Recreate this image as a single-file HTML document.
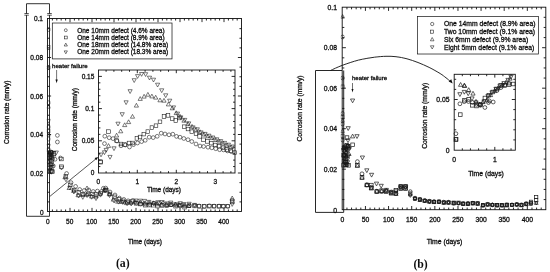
<!DOCTYPE html>
<html><head><meta charset="utf-8"><title>Corrosion rate figure</title>
<style>html,body{margin:0;padding:0;background:#fff}svg{display:block}</style></head>
<body><svg width="550" height="272" viewBox="0 0 550 272">
<defs><filter id="bl" x="-2%" y="-2%" width="104%" height="104%"><feGaussianBlur stdDeviation="0.2"/></filter></defs>
<rect width="550" height="272" fill="#fff"/>
<g filter="url(#bl)">
<g fill="none" stroke="#111" stroke-linecap="butt">
<rect x="47.5" y="18.5" width="194.0" height="193.0" stroke-width="0.9"/>
<line x1="52.4" y1="211.5" x2="52.4" y2="209.5" stroke-width="0.9"/>
<line x1="52.4" y1="18.5" x2="52.4" y2="20.5" stroke-width="0.9"/>
<line x1="56.8" y1="211.5" x2="56.8" y2="209.5" stroke-width="0.9"/>
<line x1="56.8" y1="18.5" x2="56.8" y2="20.5" stroke-width="0.9"/>
<line x1="61.2" y1="211.5" x2="61.2" y2="209.5" stroke-width="0.9"/>
<line x1="61.2" y1="18.5" x2="61.2" y2="20.5" stroke-width="0.9"/>
<line x1="65.6" y1="211.5" x2="65.6" y2="209.5" stroke-width="0.9"/>
<line x1="65.6" y1="18.5" x2="65.6" y2="20.5" stroke-width="0.9"/>
<line x1="70.0" y1="211.5" x2="70.0" y2="207.9" stroke-width="0.9"/>
<line x1="70.0" y1="18.5" x2="70.0" y2="22.1" stroke-width="0.9"/>
<line x1="74.4" y1="211.5" x2="74.4" y2="209.5" stroke-width="0.9"/>
<line x1="74.4" y1="18.5" x2="74.4" y2="20.5" stroke-width="0.9"/>
<line x1="78.8" y1="211.5" x2="78.8" y2="209.5" stroke-width="0.9"/>
<line x1="78.8" y1="18.5" x2="78.8" y2="20.5" stroke-width="0.9"/>
<line x1="83.2" y1="211.5" x2="83.2" y2="209.5" stroke-width="0.9"/>
<line x1="83.2" y1="18.5" x2="83.2" y2="20.5" stroke-width="0.9"/>
<line x1="87.6" y1="211.5" x2="87.6" y2="209.5" stroke-width="0.9"/>
<line x1="87.6" y1="18.5" x2="87.6" y2="20.5" stroke-width="0.9"/>
<line x1="92.0" y1="211.5" x2="92.0" y2="207.9" stroke-width="0.9"/>
<line x1="92.0" y1="18.5" x2="92.0" y2="22.1" stroke-width="0.9"/>
<line x1="96.4" y1="211.5" x2="96.4" y2="209.5" stroke-width="0.9"/>
<line x1="96.4" y1="18.5" x2="96.4" y2="20.5" stroke-width="0.9"/>
<line x1="100.8" y1="211.5" x2="100.8" y2="209.5" stroke-width="0.9"/>
<line x1="100.8" y1="18.5" x2="100.8" y2="20.5" stroke-width="0.9"/>
<line x1="105.2" y1="211.5" x2="105.2" y2="209.5" stroke-width="0.9"/>
<line x1="105.2" y1="18.5" x2="105.2" y2="20.5" stroke-width="0.9"/>
<line x1="109.6" y1="211.5" x2="109.6" y2="209.5" stroke-width="0.9"/>
<line x1="109.6" y1="18.5" x2="109.6" y2="20.5" stroke-width="0.9"/>
<line x1="114.0" y1="211.5" x2="114.0" y2="207.9" stroke-width="0.9"/>
<line x1="114.0" y1="18.5" x2="114.0" y2="22.1" stroke-width="0.9"/>
<line x1="118.4" y1="211.5" x2="118.4" y2="209.5" stroke-width="0.9"/>
<line x1="118.4" y1="18.5" x2="118.4" y2="20.5" stroke-width="0.9"/>
<line x1="122.8" y1="211.5" x2="122.8" y2="209.5" stroke-width="0.9"/>
<line x1="122.8" y1="18.5" x2="122.8" y2="20.5" stroke-width="0.9"/>
<line x1="127.2" y1="211.5" x2="127.2" y2="209.5" stroke-width="0.9"/>
<line x1="127.2" y1="18.5" x2="127.2" y2="20.5" stroke-width="0.9"/>
<line x1="131.6" y1="211.5" x2="131.6" y2="209.5" stroke-width="0.9"/>
<line x1="131.6" y1="18.5" x2="131.6" y2="20.5" stroke-width="0.9"/>
<line x1="136.0" y1="211.5" x2="136.0" y2="207.9" stroke-width="0.9"/>
<line x1="136.0" y1="18.5" x2="136.0" y2="22.1" stroke-width="0.9"/>
<line x1="140.4" y1="211.5" x2="140.4" y2="209.5" stroke-width="0.9"/>
<line x1="140.4" y1="18.5" x2="140.4" y2="20.5" stroke-width="0.9"/>
<line x1="144.8" y1="211.5" x2="144.8" y2="209.5" stroke-width="0.9"/>
<line x1="144.8" y1="18.5" x2="144.8" y2="20.5" stroke-width="0.9"/>
<line x1="149.2" y1="211.5" x2="149.2" y2="209.5" stroke-width="0.9"/>
<line x1="149.2" y1="18.5" x2="149.2" y2="20.5" stroke-width="0.9"/>
<line x1="153.6" y1="211.5" x2="153.6" y2="209.5" stroke-width="0.9"/>
<line x1="153.6" y1="18.5" x2="153.6" y2="20.5" stroke-width="0.9"/>
<line x1="158.0" y1="211.5" x2="158.0" y2="207.9" stroke-width="0.9"/>
<line x1="158.0" y1="18.5" x2="158.0" y2="22.1" stroke-width="0.9"/>
<line x1="162.4" y1="211.5" x2="162.4" y2="209.5" stroke-width="0.9"/>
<line x1="162.4" y1="18.5" x2="162.4" y2="20.5" stroke-width="0.9"/>
<line x1="166.8" y1="211.5" x2="166.8" y2="209.5" stroke-width="0.9"/>
<line x1="166.8" y1="18.5" x2="166.8" y2="20.5" stroke-width="0.9"/>
<line x1="171.2" y1="211.5" x2="171.2" y2="209.5" stroke-width="0.9"/>
<line x1="171.2" y1="18.5" x2="171.2" y2="20.5" stroke-width="0.9"/>
<line x1="175.6" y1="211.5" x2="175.6" y2="209.5" stroke-width="0.9"/>
<line x1="175.6" y1="18.5" x2="175.6" y2="20.5" stroke-width="0.9"/>
<line x1="180.0" y1="211.5" x2="180.0" y2="207.9" stroke-width="0.9"/>
<line x1="180.0" y1="18.5" x2="180.0" y2="22.1" stroke-width="0.9"/>
<line x1="184.4" y1="211.5" x2="184.4" y2="209.5" stroke-width="0.9"/>
<line x1="184.4" y1="18.5" x2="184.4" y2="20.5" stroke-width="0.9"/>
<line x1="188.8" y1="211.5" x2="188.8" y2="209.5" stroke-width="0.9"/>
<line x1="188.8" y1="18.5" x2="188.8" y2="20.5" stroke-width="0.9"/>
<line x1="193.2" y1="211.5" x2="193.2" y2="209.5" stroke-width="0.9"/>
<line x1="193.2" y1="18.5" x2="193.2" y2="20.5" stroke-width="0.9"/>
<line x1="197.6" y1="211.5" x2="197.6" y2="209.5" stroke-width="0.9"/>
<line x1="197.6" y1="18.5" x2="197.6" y2="20.5" stroke-width="0.9"/>
<line x1="202.0" y1="211.5" x2="202.0" y2="207.9" stroke-width="0.9"/>
<line x1="202.0" y1="18.5" x2="202.0" y2="22.1" stroke-width="0.9"/>
<line x1="206.4" y1="211.5" x2="206.4" y2="209.5" stroke-width="0.9"/>
<line x1="206.4" y1="18.5" x2="206.4" y2="20.5" stroke-width="0.9"/>
<line x1="210.8" y1="211.5" x2="210.8" y2="209.5" stroke-width="0.9"/>
<line x1="210.8" y1="18.5" x2="210.8" y2="20.5" stroke-width="0.9"/>
<line x1="215.2" y1="211.5" x2="215.2" y2="209.5" stroke-width="0.9"/>
<line x1="215.2" y1="18.5" x2="215.2" y2="20.5" stroke-width="0.9"/>
<line x1="219.6" y1="211.5" x2="219.6" y2="209.5" stroke-width="0.9"/>
<line x1="219.6" y1="18.5" x2="219.6" y2="20.5" stroke-width="0.9"/>
<line x1="224.0" y1="211.5" x2="224.0" y2="207.9" stroke-width="0.9"/>
<line x1="224.0" y1="18.5" x2="224.0" y2="22.1" stroke-width="0.9"/>
<line x1="228.4" y1="211.5" x2="228.4" y2="209.5" stroke-width="0.9"/>
<line x1="228.4" y1="18.5" x2="228.4" y2="20.5" stroke-width="0.9"/>
<line x1="232.8" y1="211.5" x2="232.8" y2="209.5" stroke-width="0.9"/>
<line x1="232.8" y1="18.5" x2="232.8" y2="20.5" stroke-width="0.9"/>
<line x1="237.2" y1="211.5" x2="237.2" y2="209.5" stroke-width="0.9"/>
<line x1="237.2" y1="18.5" x2="237.2" y2="20.5" stroke-width="0.9"/>
<line x1="47.5" y1="201.875" x2="49.5" y2="201.875" stroke-width="0.9"/>
<line x1="241.5" y1="201.875" x2="239.5" y2="201.875" stroke-width="0.9"/>
<line x1="47.5" y1="192.25" x2="49.5" y2="192.25" stroke-width="0.9"/>
<line x1="241.5" y1="192.25" x2="239.5" y2="192.25" stroke-width="0.9"/>
<line x1="47.5" y1="182.625" x2="49.5" y2="182.625" stroke-width="0.9"/>
<line x1="241.5" y1="182.625" x2="239.5" y2="182.625" stroke-width="0.9"/>
<line x1="47.5" y1="173.0" x2="51.1" y2="173.0" stroke-width="0.9"/>
<line x1="241.5" y1="173.0" x2="237.9" y2="173.0" stroke-width="0.9"/>
<line x1="47.5" y1="163.375" x2="49.5" y2="163.375" stroke-width="0.9"/>
<line x1="241.5" y1="163.375" x2="239.5" y2="163.375" stroke-width="0.9"/>
<line x1="47.5" y1="153.75" x2="49.5" y2="153.75" stroke-width="0.9"/>
<line x1="241.5" y1="153.75" x2="239.5" y2="153.75" stroke-width="0.9"/>
<line x1="47.5" y1="144.125" x2="49.5" y2="144.125" stroke-width="0.9"/>
<line x1="241.5" y1="144.125" x2="239.5" y2="144.125" stroke-width="0.9"/>
<line x1="47.5" y1="134.5" x2="51.1" y2="134.5" stroke-width="0.9"/>
<line x1="241.5" y1="134.5" x2="237.9" y2="134.5" stroke-width="0.9"/>
<line x1="47.5" y1="124.875" x2="49.5" y2="124.875" stroke-width="0.9"/>
<line x1="241.5" y1="124.875" x2="239.5" y2="124.875" stroke-width="0.9"/>
<line x1="47.5" y1="115.25" x2="49.5" y2="115.25" stroke-width="0.9"/>
<line x1="241.5" y1="115.25" x2="239.5" y2="115.25" stroke-width="0.9"/>
<line x1="47.5" y1="105.625" x2="49.5" y2="105.625" stroke-width="0.9"/>
<line x1="241.5" y1="105.625" x2="239.5" y2="105.625" stroke-width="0.9"/>
<line x1="47.5" y1="96.0" x2="51.1" y2="96.0" stroke-width="0.9"/>
<line x1="241.5" y1="96.0" x2="237.9" y2="96.0" stroke-width="0.9"/>
<line x1="47.5" y1="86.375" x2="49.5" y2="86.375" stroke-width="0.9"/>
<line x1="241.5" y1="86.375" x2="239.5" y2="86.375" stroke-width="0.9"/>
<line x1="47.5" y1="76.75" x2="49.5" y2="76.75" stroke-width="0.9"/>
<line x1="241.5" y1="76.75" x2="239.5" y2="76.75" stroke-width="0.9"/>
<line x1="47.5" y1="67.125" x2="49.5" y2="67.125" stroke-width="0.9"/>
<line x1="241.5" y1="67.125" x2="239.5" y2="67.125" stroke-width="0.9"/>
<line x1="47.5" y1="57.5" x2="51.1" y2="57.5" stroke-width="0.9"/>
<line x1="241.5" y1="57.5" x2="237.9" y2="57.5" stroke-width="0.9"/>
<line x1="47.5" y1="47.875" x2="49.5" y2="47.875" stroke-width="0.9"/>
<line x1="241.5" y1="47.875" x2="239.5" y2="47.875" stroke-width="0.9"/>
<line x1="47.5" y1="38.25" x2="49.5" y2="38.25" stroke-width="0.9"/>
<line x1="241.5" y1="38.25" x2="239.5" y2="38.25" stroke-width="0.9"/>
<line x1="47.5" y1="28.625" x2="49.5" y2="28.625" stroke-width="0.9"/>
<line x1="241.5" y1="28.625" x2="239.5" y2="28.625" stroke-width="0.9"/>
<path d="M49.5 216.3L26.5 216.3L26.5 15.1M26.5 13.6L26.5 3.7L49.5 3.7L49.5 13.6M49.5 15.1L49.5 216.3" stroke-width="0.85"/>
<line x1="24.4" y1="13.5" x2="28.8" y2="13.5" stroke-width="0.7"/>
<line x1="24.4" y1="15.2" x2="28.8" y2="15.2" stroke-width="0.7"/>
<line x1="47.2" y1="13.5" x2="51.8" y2="13.5" stroke-width="0.7"/>
<line x1="47.2" y1="15.2" x2="51.8" y2="15.2" stroke-width="0.7"/>
<rect x="52.3" y="23" width="119.7" height="35.9" fill="#fff" stroke-width="0.7"/>
<rect x="98.5" y="70.0" width="136.5" height="103.0" fill="#fff" stroke-width="0.9"/>
<line x1="106.1" y1="173.0" x2="106.1" y2="171.2" stroke-width="0.9"/>
<line x1="106.1" y1="70.0" x2="106.1" y2="71.8" stroke-width="0.9"/>
<line x1="113.9" y1="173.0" x2="113.9" y2="171.2" stroke-width="0.9"/>
<line x1="113.9" y1="70.0" x2="113.9" y2="71.8" stroke-width="0.9"/>
<line x1="121.69999999999999" y1="173.0" x2="121.69999999999999" y2="171.2" stroke-width="0.9"/>
<line x1="121.69999999999999" y1="70.0" x2="121.69999999999999" y2="71.8" stroke-width="0.9"/>
<line x1="129.5" y1="173.0" x2="129.5" y2="171.2" stroke-width="0.9"/>
<line x1="129.5" y1="70.0" x2="129.5" y2="71.8" stroke-width="0.9"/>
<line x1="137.3" y1="173.0" x2="137.3" y2="169.8" stroke-width="0.9"/>
<line x1="137.3" y1="70.0" x2="137.3" y2="73.2" stroke-width="0.9"/>
<line x1="145.1" y1="173.0" x2="145.1" y2="171.2" stroke-width="0.9"/>
<line x1="145.1" y1="70.0" x2="145.1" y2="71.8" stroke-width="0.9"/>
<line x1="152.89999999999998" y1="173.0" x2="152.89999999999998" y2="171.2" stroke-width="0.9"/>
<line x1="152.89999999999998" y1="70.0" x2="152.89999999999998" y2="71.8" stroke-width="0.9"/>
<line x1="160.7" y1="173.0" x2="160.7" y2="171.2" stroke-width="0.9"/>
<line x1="160.7" y1="70.0" x2="160.7" y2="71.8" stroke-width="0.9"/>
<line x1="168.5" y1="173.0" x2="168.5" y2="171.2" stroke-width="0.9"/>
<line x1="168.5" y1="70.0" x2="168.5" y2="71.8" stroke-width="0.9"/>
<line x1="176.3" y1="173.0" x2="176.3" y2="169.8" stroke-width="0.9"/>
<line x1="176.3" y1="70.0" x2="176.3" y2="73.2" stroke-width="0.9"/>
<line x1="184.10000000000002" y1="173.0" x2="184.10000000000002" y2="171.2" stroke-width="0.9"/>
<line x1="184.10000000000002" y1="70.0" x2="184.10000000000002" y2="71.8" stroke-width="0.9"/>
<line x1="191.89999999999998" y1="173.0" x2="191.89999999999998" y2="171.2" stroke-width="0.9"/>
<line x1="191.89999999999998" y1="70.0" x2="191.89999999999998" y2="71.8" stroke-width="0.9"/>
<line x1="199.7" y1="173.0" x2="199.7" y2="171.2" stroke-width="0.9"/>
<line x1="199.7" y1="70.0" x2="199.7" y2="71.8" stroke-width="0.9"/>
<line x1="207.5" y1="173.0" x2="207.5" y2="171.2" stroke-width="0.9"/>
<line x1="207.5" y1="70.0" x2="207.5" y2="71.8" stroke-width="0.9"/>
<line x1="215.3" y1="173.0" x2="215.3" y2="169.8" stroke-width="0.9"/>
<line x1="215.3" y1="70.0" x2="215.3" y2="73.2" stroke-width="0.9"/>
<line x1="223.10000000000002" y1="173.0" x2="223.10000000000002" y2="171.2" stroke-width="0.9"/>
<line x1="223.10000000000002" y1="70.0" x2="223.10000000000002" y2="71.8" stroke-width="0.9"/>
<line x1="230.89999999999998" y1="173.0" x2="230.89999999999998" y2="171.2" stroke-width="0.9"/>
<line x1="230.89999999999998" y1="70.0" x2="230.89999999999998" y2="71.8" stroke-width="0.9"/>
<line x1="98.5" y1="166.56" x2="100.4" y2="166.56" stroke-width="0.9"/>
<line x1="235.0" y1="166.56" x2="233.1" y2="166.56" stroke-width="0.9"/>
<line x1="98.5" y1="160.12" x2="100.4" y2="160.12" stroke-width="0.9"/>
<line x1="235.0" y1="160.12" x2="233.1" y2="160.12" stroke-width="0.9"/>
<line x1="98.5" y1="153.68" x2="100.4" y2="153.68" stroke-width="0.9"/>
<line x1="235.0" y1="153.68" x2="233.1" y2="153.68" stroke-width="0.9"/>
<line x1="98.5" y1="147.24" x2="100.4" y2="147.24" stroke-width="0.9"/>
<line x1="235.0" y1="147.24" x2="233.1" y2="147.24" stroke-width="0.9"/>
<line x1="98.5" y1="140.8" x2="101.9" y2="140.8" stroke-width="0.9"/>
<line x1="235.0" y1="140.8" x2="231.6" y2="140.8" stroke-width="0.9"/>
<line x1="98.5" y1="134.36" x2="100.4" y2="134.36" stroke-width="0.9"/>
<line x1="235.0" y1="134.36" x2="233.1" y2="134.36" stroke-width="0.9"/>
<line x1="98.5" y1="127.91999999999999" x2="100.4" y2="127.91999999999999" stroke-width="0.9"/>
<line x1="235.0" y1="127.91999999999999" x2="233.1" y2="127.91999999999999" stroke-width="0.9"/>
<line x1="98.5" y1="121.47999999999999" x2="100.4" y2="121.47999999999999" stroke-width="0.9"/>
<line x1="235.0" y1="121.47999999999999" x2="233.1" y2="121.47999999999999" stroke-width="0.9"/>
<line x1="98.5" y1="115.03999999999999" x2="100.4" y2="115.03999999999999" stroke-width="0.9"/>
<line x1="235.0" y1="115.03999999999999" x2="233.1" y2="115.03999999999999" stroke-width="0.9"/>
<line x1="98.5" y1="108.6" x2="101.9" y2="108.6" stroke-width="0.9"/>
<line x1="235.0" y1="108.6" x2="231.6" y2="108.6" stroke-width="0.9"/>
<line x1="98.5" y1="102.16" x2="100.4" y2="102.16" stroke-width="0.9"/>
<line x1="235.0" y1="102.16" x2="233.1" y2="102.16" stroke-width="0.9"/>
<line x1="98.5" y1="95.72" x2="100.4" y2="95.72" stroke-width="0.9"/>
<line x1="235.0" y1="95.72" x2="233.1" y2="95.72" stroke-width="0.9"/>
<line x1="98.5" y1="89.28" x2="100.4" y2="89.28" stroke-width="0.9"/>
<line x1="235.0" y1="89.28" x2="233.1" y2="89.28" stroke-width="0.9"/>
<line x1="98.5" y1="82.83999999999999" x2="100.4" y2="82.83999999999999" stroke-width="0.9"/>
<line x1="235.0" y1="82.83999999999999" x2="233.1" y2="82.83999999999999" stroke-width="0.9"/>
<line x1="98.5" y1="76.4" x2="101.9" y2="76.4" stroke-width="0.9"/>
<line x1="235.0" y1="76.4" x2="231.6" y2="76.4" stroke-width="0.9"/>
<line x1="49.7" y1="196.5" x2="97.0" y2="158.0" stroke-width="0.7"/>
<path d="M98.3 157L94.6 158.1L96.2 160.2Z" fill="#111" stroke="none"/>
<line x1="56.6" y1="70" x2="56.6" y2="81" stroke-width="0.6"/>
<path d="M56.6 83.2L55.5 79.4L57.7 79.4Z" fill="#111" stroke="none"/>
<rect x="342.2" y="7.2" width="203.59999999999997" height="202.5" stroke-width="0.9"/>
<line x1="346.926" y1="209.7" x2="346.926" y2="207.6" stroke-width="0.9"/>
<line x1="346.926" y1="7.2" x2="346.926" y2="9.3" stroke-width="0.9"/>
<line x1="351.552" y1="209.7" x2="351.552" y2="207.6" stroke-width="0.9"/>
<line x1="351.552" y1="7.2" x2="351.552" y2="9.3" stroke-width="0.9"/>
<line x1="356.178" y1="209.7" x2="356.178" y2="207.6" stroke-width="0.9"/>
<line x1="356.178" y1="7.2" x2="356.178" y2="9.3" stroke-width="0.9"/>
<line x1="360.80400000000003" y1="209.7" x2="360.80400000000003" y2="207.6" stroke-width="0.9"/>
<line x1="360.80400000000003" y1="7.2" x2="360.80400000000003" y2="9.3" stroke-width="0.9"/>
<line x1="365.43" y1="209.7" x2="365.43" y2="206.0" stroke-width="0.9"/>
<line x1="365.43" y1="7.2" x2="365.43" y2="10.9" stroke-width="0.9"/>
<line x1="370.05600000000004" y1="209.7" x2="370.05600000000004" y2="207.6" stroke-width="0.9"/>
<line x1="370.05600000000004" y1="7.2" x2="370.05600000000004" y2="9.3" stroke-width="0.9"/>
<line x1="374.682" y1="209.7" x2="374.682" y2="207.6" stroke-width="0.9"/>
<line x1="374.682" y1="7.2" x2="374.682" y2="9.3" stroke-width="0.9"/>
<line x1="379.308" y1="209.7" x2="379.308" y2="207.6" stroke-width="0.9"/>
<line x1="379.308" y1="7.2" x2="379.308" y2="9.3" stroke-width="0.9"/>
<line x1="383.934" y1="209.7" x2="383.934" y2="207.6" stroke-width="0.9"/>
<line x1="383.934" y1="7.2" x2="383.934" y2="9.3" stroke-width="0.9"/>
<line x1="388.56" y1="209.7" x2="388.56" y2="206.0" stroke-width="0.9"/>
<line x1="388.56" y1="7.2" x2="388.56" y2="10.9" stroke-width="0.9"/>
<line x1="393.18600000000004" y1="209.7" x2="393.18600000000004" y2="207.6" stroke-width="0.9"/>
<line x1="393.18600000000004" y1="7.2" x2="393.18600000000004" y2="9.3" stroke-width="0.9"/>
<line x1="397.812" y1="209.7" x2="397.812" y2="207.6" stroke-width="0.9"/>
<line x1="397.812" y1="7.2" x2="397.812" y2="9.3" stroke-width="0.9"/>
<line x1="402.438" y1="209.7" x2="402.438" y2="207.6" stroke-width="0.9"/>
<line x1="402.438" y1="7.2" x2="402.438" y2="9.3" stroke-width="0.9"/>
<line x1="407.064" y1="209.7" x2="407.064" y2="207.6" stroke-width="0.9"/>
<line x1="407.064" y1="7.2" x2="407.064" y2="9.3" stroke-width="0.9"/>
<line x1="411.69" y1="209.7" x2="411.69" y2="206.0" stroke-width="0.9"/>
<line x1="411.69" y1="7.2" x2="411.69" y2="10.9" stroke-width="0.9"/>
<line x1="416.31600000000003" y1="209.7" x2="416.31600000000003" y2="207.6" stroke-width="0.9"/>
<line x1="416.31600000000003" y1="7.2" x2="416.31600000000003" y2="9.3" stroke-width="0.9"/>
<line x1="420.942" y1="209.7" x2="420.942" y2="207.6" stroke-width="0.9"/>
<line x1="420.942" y1="7.2" x2="420.942" y2="9.3" stroke-width="0.9"/>
<line x1="425.568" y1="209.7" x2="425.568" y2="207.6" stroke-width="0.9"/>
<line x1="425.568" y1="7.2" x2="425.568" y2="9.3" stroke-width="0.9"/>
<line x1="430.194" y1="209.7" x2="430.194" y2="207.6" stroke-width="0.9"/>
<line x1="430.194" y1="7.2" x2="430.194" y2="9.3" stroke-width="0.9"/>
<line x1="434.82" y1="209.7" x2="434.82" y2="206.0" stroke-width="0.9"/>
<line x1="434.82" y1="7.2" x2="434.82" y2="10.9" stroke-width="0.9"/>
<line x1="439.446" y1="209.7" x2="439.446" y2="207.6" stroke-width="0.9"/>
<line x1="439.446" y1="7.2" x2="439.446" y2="9.3" stroke-width="0.9"/>
<line x1="444.072" y1="209.7" x2="444.072" y2="207.6" stroke-width="0.9"/>
<line x1="444.072" y1="7.2" x2="444.072" y2="9.3" stroke-width="0.9"/>
<line x1="448.698" y1="209.7" x2="448.698" y2="207.6" stroke-width="0.9"/>
<line x1="448.698" y1="7.2" x2="448.698" y2="9.3" stroke-width="0.9"/>
<line x1="453.324" y1="209.7" x2="453.324" y2="207.6" stroke-width="0.9"/>
<line x1="453.324" y1="7.2" x2="453.324" y2="9.3" stroke-width="0.9"/>
<line x1="457.95000000000005" y1="209.7" x2="457.95000000000005" y2="206.0" stroke-width="0.9"/>
<line x1="457.95000000000005" y1="7.2" x2="457.95000000000005" y2="10.9" stroke-width="0.9"/>
<line x1="462.576" y1="209.7" x2="462.576" y2="207.6" stroke-width="0.9"/>
<line x1="462.576" y1="7.2" x2="462.576" y2="9.3" stroke-width="0.9"/>
<line x1="467.202" y1="209.7" x2="467.202" y2="207.6" stroke-width="0.9"/>
<line x1="467.202" y1="7.2" x2="467.202" y2="9.3" stroke-width="0.9"/>
<line x1="471.828" y1="209.7" x2="471.828" y2="207.6" stroke-width="0.9"/>
<line x1="471.828" y1="7.2" x2="471.828" y2="9.3" stroke-width="0.9"/>
<line x1="476.454" y1="209.7" x2="476.454" y2="207.6" stroke-width="0.9"/>
<line x1="476.454" y1="7.2" x2="476.454" y2="9.3" stroke-width="0.9"/>
<line x1="481.08000000000004" y1="209.7" x2="481.08000000000004" y2="206.0" stroke-width="0.9"/>
<line x1="481.08000000000004" y1="7.2" x2="481.08000000000004" y2="10.9" stroke-width="0.9"/>
<line x1="485.706" y1="209.7" x2="485.706" y2="207.6" stroke-width="0.9"/>
<line x1="485.706" y1="7.2" x2="485.706" y2="9.3" stroke-width="0.9"/>
<line x1="490.332" y1="209.7" x2="490.332" y2="207.6" stroke-width="0.9"/>
<line x1="490.332" y1="7.2" x2="490.332" y2="9.3" stroke-width="0.9"/>
<line x1="494.95799999999997" y1="209.7" x2="494.95799999999997" y2="207.6" stroke-width="0.9"/>
<line x1="494.95799999999997" y1="7.2" x2="494.95799999999997" y2="9.3" stroke-width="0.9"/>
<line x1="499.584" y1="209.7" x2="499.584" y2="207.6" stroke-width="0.9"/>
<line x1="499.584" y1="7.2" x2="499.584" y2="9.3" stroke-width="0.9"/>
<line x1="504.21000000000004" y1="209.7" x2="504.21000000000004" y2="206.0" stroke-width="0.9"/>
<line x1="504.21000000000004" y1="7.2" x2="504.21000000000004" y2="10.9" stroke-width="0.9"/>
<line x1="508.836" y1="209.7" x2="508.836" y2="207.6" stroke-width="0.9"/>
<line x1="508.836" y1="7.2" x2="508.836" y2="9.3" stroke-width="0.9"/>
<line x1="513.462" y1="209.7" x2="513.462" y2="207.6" stroke-width="0.9"/>
<line x1="513.462" y1="7.2" x2="513.462" y2="9.3" stroke-width="0.9"/>
<line x1="518.088" y1="209.7" x2="518.088" y2="207.6" stroke-width="0.9"/>
<line x1="518.088" y1="7.2" x2="518.088" y2="9.3" stroke-width="0.9"/>
<line x1="522.7139999999999" y1="209.7" x2="522.7139999999999" y2="207.6" stroke-width="0.9"/>
<line x1="522.7139999999999" y1="7.2" x2="522.7139999999999" y2="9.3" stroke-width="0.9"/>
<line x1="527.34" y1="209.7" x2="527.34" y2="206.0" stroke-width="0.9"/>
<line x1="527.34" y1="7.2" x2="527.34" y2="10.9" stroke-width="0.9"/>
<line x1="531.966" y1="209.7" x2="531.966" y2="207.6" stroke-width="0.9"/>
<line x1="531.966" y1="7.2" x2="531.966" y2="9.3" stroke-width="0.9"/>
<line x1="536.592" y1="209.7" x2="536.592" y2="207.6" stroke-width="0.9"/>
<line x1="536.592" y1="7.2" x2="536.592" y2="9.3" stroke-width="0.9"/>
<line x1="541.2180000000001" y1="209.7" x2="541.2180000000001" y2="207.6" stroke-width="0.9"/>
<line x1="541.2180000000001" y1="7.2" x2="541.2180000000001" y2="9.3" stroke-width="0.9"/>
<line x1="342.2" y1="199.575" x2="344.3" y2="199.575" stroke-width="0.9"/>
<line x1="545.8" y1="199.575" x2="543.6999999999999" y2="199.575" stroke-width="0.9"/>
<line x1="342.2" y1="189.45" x2="344.3" y2="189.45" stroke-width="0.9"/>
<line x1="545.8" y1="189.45" x2="543.6999999999999" y2="189.45" stroke-width="0.9"/>
<line x1="342.2" y1="179.325" x2="344.3" y2="179.325" stroke-width="0.9"/>
<line x1="545.8" y1="179.325" x2="543.6999999999999" y2="179.325" stroke-width="0.9"/>
<line x1="342.2" y1="169.2" x2="345.9" y2="169.2" stroke-width="0.9"/>
<line x1="545.8" y1="169.2" x2="542.0999999999999" y2="169.2" stroke-width="0.9"/>
<line x1="342.2" y1="159.075" x2="344.3" y2="159.075" stroke-width="0.9"/>
<line x1="545.8" y1="159.075" x2="543.6999999999999" y2="159.075" stroke-width="0.9"/>
<line x1="342.2" y1="148.95" x2="344.3" y2="148.95" stroke-width="0.9"/>
<line x1="545.8" y1="148.95" x2="543.6999999999999" y2="148.95" stroke-width="0.9"/>
<line x1="342.2" y1="138.825" x2="344.3" y2="138.825" stroke-width="0.9"/>
<line x1="545.8" y1="138.825" x2="543.6999999999999" y2="138.825" stroke-width="0.9"/>
<line x1="342.2" y1="128.7" x2="345.9" y2="128.7" stroke-width="0.9"/>
<line x1="545.8" y1="128.7" x2="542.0999999999999" y2="128.7" stroke-width="0.9"/>
<line x1="342.2" y1="118.57499999999999" x2="344.3" y2="118.57499999999999" stroke-width="0.9"/>
<line x1="545.8" y1="118.57499999999999" x2="543.6999999999999" y2="118.57499999999999" stroke-width="0.9"/>
<line x1="342.2" y1="108.44999999999999" x2="344.3" y2="108.44999999999999" stroke-width="0.9"/>
<line x1="545.8" y1="108.44999999999999" x2="543.6999999999999" y2="108.44999999999999" stroke-width="0.9"/>
<line x1="342.2" y1="98.32499999999999" x2="344.3" y2="98.32499999999999" stroke-width="0.9"/>
<line x1="545.8" y1="98.32499999999999" x2="543.6999999999999" y2="98.32499999999999" stroke-width="0.9"/>
<line x1="342.2" y1="88.19999999999999" x2="345.9" y2="88.19999999999999" stroke-width="0.9"/>
<line x1="545.8" y1="88.19999999999999" x2="542.0999999999999" y2="88.19999999999999" stroke-width="0.9"/>
<line x1="342.2" y1="78.07499999999999" x2="344.3" y2="78.07499999999999" stroke-width="0.9"/>
<line x1="545.8" y1="78.07499999999999" x2="543.6999999999999" y2="78.07499999999999" stroke-width="0.9"/>
<line x1="342.2" y1="67.94999999999999" x2="344.3" y2="67.94999999999999" stroke-width="0.9"/>
<line x1="545.8" y1="67.94999999999999" x2="543.6999999999999" y2="67.94999999999999" stroke-width="0.9"/>
<line x1="342.2" y1="57.82499999999999" x2="344.3" y2="57.82499999999999" stroke-width="0.9"/>
<line x1="545.8" y1="57.82499999999999" x2="543.6999999999999" y2="57.82499999999999" stroke-width="0.9"/>
<line x1="342.2" y1="47.69999999999999" x2="345.9" y2="47.69999999999999" stroke-width="0.9"/>
<line x1="545.8" y1="47.69999999999999" x2="542.0999999999999" y2="47.69999999999999" stroke-width="0.9"/>
<line x1="342.2" y1="37.57499999999999" x2="344.3" y2="37.57499999999999" stroke-width="0.9"/>
<line x1="545.8" y1="37.57499999999999" x2="543.6999999999999" y2="37.57499999999999" stroke-width="0.9"/>
<line x1="342.2" y1="27.44999999999999" x2="344.3" y2="27.44999999999999" stroke-width="0.9"/>
<line x1="545.8" y1="27.44999999999999" x2="543.6999999999999" y2="27.44999999999999" stroke-width="0.9"/>
<line x1="342.2" y1="17.32499999999999" x2="344.3" y2="17.32499999999999" stroke-width="0.9"/>
<line x1="545.8" y1="17.32499999999999" x2="543.6999999999999" y2="17.32499999999999" stroke-width="0.9"/>
<path d="M342 70.5L315.5 70.5L315.5 212.4L343.7 212.4L343.7 70.5" stroke-width="0.9"/>
<rect x="417.6" y="16.5" width="120.8" height="37.5" fill="#fff" stroke-width="0.7"/>
<rect x="454.2" y="74.3" width="61.099999999999966" height="75.89999999999999" fill="#fff" stroke-width="0.9"/>
<line x1="462.32" y1="150.2" x2="462.32" y2="148.29999999999998" stroke-width="0.9"/>
<line x1="462.32" y1="74.3" x2="462.32" y2="76.2" stroke-width="0.9"/>
<line x1="470.44" y1="150.2" x2="470.44" y2="148.29999999999998" stroke-width="0.9"/>
<line x1="470.44" y1="74.3" x2="470.44" y2="76.2" stroke-width="0.9"/>
<line x1="478.56" y1="150.2" x2="478.56" y2="148.29999999999998" stroke-width="0.9"/>
<line x1="478.56" y1="74.3" x2="478.56" y2="76.2" stroke-width="0.9"/>
<line x1="486.68" y1="150.2" x2="486.68" y2="148.29999999999998" stroke-width="0.9"/>
<line x1="486.68" y1="74.3" x2="486.68" y2="76.2" stroke-width="0.9"/>
<line x1="494.8" y1="150.2" x2="494.8" y2="146.89999999999998" stroke-width="0.9"/>
<line x1="494.8" y1="74.3" x2="494.8" y2="77.6" stroke-width="0.9"/>
<line x1="502.91999999999996" y1="150.2" x2="502.91999999999996" y2="148.29999999999998" stroke-width="0.9"/>
<line x1="502.91999999999996" y1="74.3" x2="502.91999999999996" y2="76.2" stroke-width="0.9"/>
<line x1="511.03999999999996" y1="150.2" x2="511.03999999999996" y2="148.29999999999998" stroke-width="0.9"/>
<line x1="511.03999999999996" y1="74.3" x2="511.03999999999996" y2="76.2" stroke-width="0.9"/>
<line x1="454.2" y1="139.9" x2="456.2" y2="139.9" stroke-width="0.9"/>
<line x1="515.3" y1="139.9" x2="513.3" y2="139.9" stroke-width="0.9"/>
<line x1="454.2" y1="129.8" x2="456.2" y2="129.8" stroke-width="0.9"/>
<line x1="515.3" y1="129.8" x2="513.3" y2="129.8" stroke-width="0.9"/>
<line x1="454.2" y1="119.7" x2="456.2" y2="119.7" stroke-width="0.9"/>
<line x1="515.3" y1="119.7" x2="513.3" y2="119.7" stroke-width="0.9"/>
<line x1="454.2" y1="109.6" x2="456.2" y2="109.6" stroke-width="0.9"/>
<line x1="515.3" y1="109.6" x2="513.3" y2="109.6" stroke-width="0.9"/>
<line x1="454.2" y1="99.5" x2="457.7" y2="99.5" stroke-width="0.9"/>
<line x1="515.3" y1="99.5" x2="511.79999999999995" y2="99.5" stroke-width="0.9"/>
<line x1="454.2" y1="89.4" x2="456.2" y2="89.4" stroke-width="0.9"/>
<line x1="515.3" y1="89.4" x2="513.3" y2="89.4" stroke-width="0.9"/>
<line x1="454.2" y1="79.3" x2="456.2" y2="79.3" stroke-width="0.9"/>
<line x1="515.3" y1="79.3" x2="513.3" y2="79.3" stroke-width="0.9"/>
<path d="M330.5 70.5C332.5 69.6 337.7 67.0 342.4 65.3C347.1 63.6 353.1 61.5 358.5 60.1C363.9 58.8 370.1 57.8 374.7 57.2C379.3 56.6 382.4 56.4 386 56.3C389.6 56.2 392.5 56.3 396 56.7C399.5 57.1 403.3 57.8 407 58.8C410.7 59.8 414.3 61.1 418 62.5C421.7 63.9 425.4 65.6 429.1 67.4C432.8 69.2 437.3 71.8 440.1 73.5C442.9 75.2 444.3 76.5 446 77.8C447.7 79.1 449.7 80.8 450.4 81.4" stroke-width="0.9"/>
<path d="M452.6 83.6L448.6 81.6L451.3 79.2Z" fill="#111" stroke="none"/>
<line x1="352.5" y1="83" x2="352.5" y2="90.5" stroke-width="0.6"/>
<path d="M352.5 92.5L351.5 89L353.5 89Z" fill="#111" stroke="none"/>
</g>
<g fill="none" stroke="#1a1a1a" stroke-width="0.58">
<path d="M98.9 153.0L103.1 153.0L101.0 156.8Z"/>
<path d="M102.4 150.8L106.6 150.8L104.5 154.6Z"/>
<path d="M104.1 148.4L108.3 148.4L106.2 152.2Z"/>
<path d="M107.9 155.4L112.1 155.4L110.0 159.2Z"/>
<path d="M111.9 146.8L116.1 146.8L114.0 150.6Z"/>
<path d="M115.9 122.2L120.1 122.2L118.0 126.0Z"/>
<path d="M120.1 112.7L124.3 112.7L122.2 116.5Z"/>
<path d="M124.0 100.8L128.2 100.8L126.1 104.6Z"/>
<path d="M128.0 89.7L132.2 89.7L130.1 93.5Z"/>
<path d="M132.1 78.7L136.3 78.7L134.2 82.5Z"/>
<path d="M135.5 74.6L139.7 74.6L137.6 78.4Z"/>
<path d="M139.5 72.5L143.7 72.5L141.6 76.3Z"/>
<path d="M143.5 72.7L147.7 72.7L145.6 76.5Z"/>
<path d="M147.4 76.2L151.6 76.2L149.5 80.0Z"/>
<path d="M151.4 78.2L155.6 78.2L153.5 82.0Z"/>
<path d="M155.5 83.2L159.7 83.2L157.6 87.0Z"/>
<path d="M159.6 88.8L163.8 88.8L161.7 92.6Z"/>
<path d="M163.6 93.8L167.8 93.8L165.7 97.6Z"/>
<path d="M167.6 99.2L171.8 99.2L169.7 103.0Z"/>
<path d="M171.4 105.9L175.6 105.9L173.5 109.7Z"/>
<path d="M175.4 112.1L179.6 112.1L177.5 115.9Z"/>
<path d="M178.7 115.9L182.9 115.9L180.8 119.7Z"/>
<path d="M182.6 118.4L186.8 118.4L184.7 122.2Z"/>
<path d="M186.6 121.9L190.8 121.9L188.7 125.7Z"/>
<path d="M190.9 125.9L195.1 125.9L193.0 129.7Z"/>
<path d="M195.2 127.8L199.4 127.8L197.3 131.6Z"/>
<path d="M198.9 130.9L203.1 130.9L201.0 134.7Z"/>
<path d="M202.9 132.4L207.1 132.4L205.0 136.2Z"/>
<path d="M206.8 134.2L211.0 134.2L208.9 138.0Z"/>
<path d="M210.7 136.0L214.9 136.0L212.8 139.8Z"/>
<path d="M214.6 137.8L218.8 137.8L216.7 141.6Z"/>
<path d="M218.5 139.6L222.7 139.6L220.6 143.4Z"/>
<path d="M222.4 141.4L226.6 141.4L224.5 145.2Z"/>
<path d="M226.3 143.2L230.5 143.2L228.4 147.0Z"/>
<path d="M230.2 145.0L234.4 145.0L232.3 148.8Z"/>
<path d="M106.4 147.4L110.6 147.4L108.5 143.6Z"/>
<path d="M114.5 137.0L118.7 137.0L116.6 133.2Z"/>
<path d="M118.6 132.8L122.8 132.8L120.7 129.0Z"/>
<path d="M122.6 126.6L126.8 126.6L124.7 122.8Z"/>
<path d="M126.5 123.6L130.7 123.6L128.6 119.8Z"/>
<path d="M130.4 118.2L134.6 118.2L132.5 114.4Z"/>
<path d="M134.3 107.1L138.5 107.1L136.4 103.3Z"/>
<path d="M138.1 100.4L142.3 100.4L140.2 96.6Z"/>
<path d="M142.0 98.1L146.2 98.1L144.1 94.3Z"/>
<path d="M145.8 96.2L150.0 96.2L147.9 92.4Z"/>
<path d="M149.8 97.9L154.0 97.9L151.9 94.1Z"/>
<path d="M153.6 99.1L157.8 99.1L155.7 95.3Z"/>
<path d="M157.9 101.8L162.1 101.8L160.0 98.0Z"/>
<path d="M161.9 102.2L166.1 102.2L164.0 98.4Z"/>
<path d="M166.3 105.9L170.5 105.9L168.4 102.1Z"/>
<path d="M170.2 109.8L174.4 109.8L172.3 106.0Z"/>
<path d="M174.1 114.6L178.3 114.6L176.2 110.8Z"/>
<path d="M177.9 118.1L182.1 118.1L180.0 114.3Z"/>
<path d="M181.9 122.2L186.1 122.2L184.0 118.4Z"/>
<path d="M185.9 125.4L190.1 125.4L188.0 121.6Z"/>
<path d="M189.9 128.2L194.1 128.2L192.0 124.4Z"/>
<path d="M193.9 131.2L198.1 131.2L196.0 127.4Z"/>
<path d="M197.9 133.6L202.1 133.6L200.0 129.8Z"/>
<path d="M201.9 136.0L206.1 136.0L204.0 132.2Z"/>
<path d="M205.8 137.8L210.0 137.8L207.9 134.0Z"/>
<path d="M209.7 139.6L213.9 139.6L211.8 135.9Z"/>
<path d="M213.6 141.5L217.8 141.5L215.7 137.7Z"/>
<path d="M217.5 143.3L221.7 143.3L219.6 139.5Z"/>
<path d="M221.4 145.1L225.6 145.1L223.5 141.4Z"/>
<path d="M225.3 147.0L229.5 147.0L227.4 143.2Z"/>
<path d="M229.2 148.8L233.4 148.8L231.3 145.0Z"/>
<rect x="98.6" y="159.8" width="3.6" height="3.6"/>
<rect x="98.8" y="160.4" width="3.6" height="3.6"/>
<rect x="106.7" y="129.8" width="3.6" height="3.6"/>
<rect x="114.8" y="138.8" width="3.6" height="3.6"/>
<rect x="119.2" y="142.2" width="3.6" height="3.6"/>
<rect x="122.9" y="142.8" width="3.6" height="3.6"/>
<rect x="127.2" y="141.2" width="3.6" height="3.6"/>
<rect x="131.0" y="141.2" width="3.6" height="3.6"/>
<rect x="135.1" y="136.6" width="3.6" height="3.6"/>
<rect x="138.2" y="135.2" width="3.6" height="3.6"/>
<rect x="142.0" y="132.3" width="3.6" height="3.6"/>
<rect x="146.0" y="129.8" width="3.6" height="3.6"/>
<rect x="150.1" y="125.8" width="3.6" height="3.6"/>
<rect x="154.2" y="123.9" width="3.6" height="3.6"/>
<rect x="158.2" y="120.0" width="3.6" height="3.6"/>
<rect x="162.2" y="114.7" width="3.6" height="3.6"/>
<rect x="166.2" y="113.6" width="3.6" height="3.6"/>
<rect x="170.4" y="116.8" width="3.6" height="3.6"/>
<rect x="174.0" y="118.7" width="3.6" height="3.6"/>
<rect x="177.6" y="116.2" width="3.6" height="3.6"/>
<rect x="182.4" y="124.9" width="3.6" height="3.6"/>
<rect x="186.2" y="127.2" width="3.6" height="3.6"/>
<rect x="190.0" y="129.9" width="3.6" height="3.6"/>
<rect x="194.2" y="132.0" width="3.6" height="3.6"/>
<rect x="197.8" y="134.6" width="3.6" height="3.6"/>
<rect x="201.7" y="138.0" width="3.6" height="3.6"/>
<rect x="205.6" y="139.6" width="3.6" height="3.6"/>
<rect x="209.5" y="141.3" width="3.6" height="3.6"/>
<rect x="213.4" y="143.2" width="3.6" height="3.6"/>
<rect x="217.3" y="144.4" width="3.6" height="3.6"/>
<rect x="221.2" y="146.0" width="3.6" height="3.6"/>
<rect x="225.1" y="147.7" width="3.6" height="3.6"/>
<rect x="229.0" y="148.9" width="3.6" height="3.6"/>
<rect x="232.9" y="150.8" width="3.6" height="3.6"/>
<circle cx="104.8" cy="136.2" r="1.9"/>
<circle cx="109.2" cy="137.7" r="1.9"/>
<circle cx="104.5" cy="143.6" r="1.9"/>
<circle cx="113.0" cy="138.6" r="1.9"/>
<circle cx="117.0" cy="141.0" r="1.9"/>
<circle cx="121.0" cy="145.8" r="1.9"/>
<circle cx="125.4" cy="145.0" r="1.9"/>
<circle cx="129.5" cy="147.0" r="1.9"/>
<circle cx="133.5" cy="144.6" r="1.9"/>
<circle cx="137.5" cy="143.0" r="1.9"/>
<circle cx="141.6" cy="141.6" r="1.9"/>
<circle cx="145.2" cy="140.3" r="1.9"/>
<circle cx="149.2" cy="137.2" r="1.9"/>
<circle cx="153.2" cy="137.6" r="1.9"/>
<circle cx="157.2" cy="136.3" r="1.9"/>
<circle cx="161.2" cy="133.2" r="1.9"/>
<circle cx="165.0" cy="134.0" r="1.9"/>
<circle cx="169.0" cy="134.8" r="1.9"/>
<circle cx="172.8" cy="134.2" r="1.9"/>
<circle cx="176.5" cy="136.4" r="1.9"/>
<circle cx="180.0" cy="137.2" r="1.9"/>
<circle cx="183.8" cy="138.5" r="1.9"/>
<circle cx="188.0" cy="139.7" r="1.9"/>
<circle cx="191.8" cy="141.5" r="1.9"/>
<circle cx="196.0" cy="144.0" r="1.9"/>
<circle cx="200.0" cy="146.0" r="1.9"/>
<circle cx="203.6" cy="146.5" r="1.9"/>
<circle cx="208.0" cy="147.2" r="1.9"/>
<circle cx="211.8" cy="147.8" r="1.9"/>
<circle cx="215.7" cy="148.7" r="1.9"/>
<circle cx="219.6" cy="149.7" r="1.9"/>
<circle cx="223.5" cy="149.9" r="1.9"/>
<circle cx="227.4" cy="150.9" r="1.9"/>
<circle cx="231.3" cy="151.6" r="1.9"/>
<circle cx="50.6" cy="151.9" r="1.9"/>
<rect x="50.6" y="169.8" width="3.6" height="3.6"/>
<path d="M50.2 165.5L54.4 165.5L52.3 161.7Z"/>
<path d="M48.0 152.7L52.2 152.7L50.1 156.5Z"/>
<circle cx="51.9" cy="152.3" r="1.9"/>
<rect x="47.9" y="153.2" width="3.6" height="3.6"/>
<path d="M47.4 162.3L51.6 162.3L49.5 158.5Z"/>
<path d="M47.9 158.7L52.1 158.7L50.0 162.5Z"/>
<circle cx="50.8" cy="164.4" r="1.9"/>
<rect x="49.7" y="159.7" width="3.6" height="3.6"/>
<path d="M48.6 158.4L52.8 158.4L50.7 154.6Z"/>
<path d="M49.3 170.4L53.5 170.4L51.4 174.2Z"/>
<circle cx="53.3" cy="165.9" r="1.9"/>
<rect x="47.8" y="155.8" width="3.6" height="3.6"/>
<path d="M47.6 154.0L51.8 154.0L49.7 150.3Z"/>
<path d="M49.0 165.5L53.2 165.5L51.1 169.3Z"/>
<circle cx="52.6" cy="159.1" r="1.9"/>
<rect x="50.0" y="169.3" width="3.6" height="3.6"/>
<path d="M47.4 157.0L51.6 157.0L49.5 153.2Z"/>
<path d="M47.5 168.5L51.7 168.5L49.6 172.3Z"/>
<circle cx="55.0" cy="159.3" r="1.9"/>
<rect x="48.8" y="150.7" width="3.6" height="3.6"/>
<path d="M49.8 158.2L54.0 158.2L51.9 154.5Z"/>
<path d="M49.9 151.3L54.1 151.3L52.0 155.0Z"/>
<circle cx="52.1" cy="166.9" r="1.9"/>
<rect x="52.2" y="151.7" width="3.6" height="3.6"/>
<path d="M47.4 153.8L51.6 153.8L49.5 150.1Z"/>
<path d="M48.3 166.2L52.5 166.2L50.4 169.9Z"/>
<circle cx="50.6" cy="160.4" r="1.9"/>
<rect x="50.0" y="153.2" width="3.6" height="3.6"/>
<path d="M47.5 166.1L51.7 166.1L49.6 162.3Z"/>
<path d="M48.5 151.9L52.7 151.9L50.6 155.7Z"/>
<circle cx="50.7" cy="156.7" r="1.9"/>
<rect x="48.4" y="169.6" width="3.6" height="3.6"/>
<circle cx="57.4" cy="135.4" r="1.9"/>
<circle cx="57.4" cy="142.0" r="1.9"/>
<path d="M54.2 151.0L58.4 151.0L56.3 154.8Z"/>
<path d="M51.7 156.1L55.9 156.1L53.8 152.3Z"/>
<circle cx="60.4" cy="158.0" r="1.9"/>
<rect x="59.6" y="157.2" width="3.6" height="3.6"/>
<rect x="59.7" y="164.9" width="3.6" height="3.6"/>
<path d="M59.4 166.2L63.6 166.2L61.5 170.0Z"/>
<circle cx="66.6" cy="173.5" r="1.9"/>
<path d="M62.9 178.8L67.1 178.8L65.0 175.0Z"/>
<path d="M63.9 178.0L68.1 178.0L66.0 181.8Z"/>
<rect x="64.0" y="174.4" width="3.6" height="3.6"/>
<circle cx="71.0" cy="182.6" r="1.9"/>
<rect x="68.5" y="183.1" width="3.6" height="3.6"/>
<path d="M67.1 189.5L71.3 189.5L69.2 185.7Z"/>
<path d="M67.8 186.2L72.0 186.2L69.9 190.0Z"/>
<circle cx="75.6" cy="186.4" r="1.9"/>
<rect x="72.4" y="188.2" width="3.6" height="3.6"/>
<path d="M71.5 192.4L75.7 192.4L73.6 188.6Z"/>
<path d="M71.8 190.2L76.0 190.2L73.9 194.0Z"/>
<circle cx="79.7" cy="189.5" r="1.9"/>
<rect x="77.1" y="190.4" width="3.6" height="3.6"/>
<path d="M76.0 196.7L80.2 196.7L78.1 192.9Z"/>
<path d="M76.5 194.2L80.7 194.2L78.6 198.0Z"/>
<circle cx="84.3" cy="190.4" r="1.9"/>
<rect x="81.1" y="192.5" width="3.6" height="3.6"/>
<path d="M80.7 196.3L84.9 196.3L82.8 192.5Z"/>
<path d="M80.7 195.5L84.9 195.5L82.8 199.3Z"/>
<circle cx="88.8" cy="190.0" r="1.9"/>
<rect x="86.2" y="192.1" width="3.6" height="3.6"/>
<path d="M84.9 196.2L89.1 196.2L87.0 192.4Z"/>
<path d="M85.0 193.7L89.2 193.7L87.1 197.5Z"/>
<circle cx="93.2" cy="191.5" r="1.9"/>
<rect x="90.4" y="192.2" width="3.6" height="3.6"/>
<path d="M89.5 198.0L93.7 198.0L91.6 194.2Z"/>
<path d="M89.5 195.4L93.7 195.4L91.6 199.2Z"/>
<circle cx="97.4" cy="191.1" r="1.9"/>
<rect x="94.4" y="192.8" width="3.6" height="3.6"/>
<path d="M93.9 198.0L98.1 198.0L96.0 194.2Z"/>
<path d="M93.9 196.9L98.1 196.9L96.0 200.6Z"/>
<circle cx="101.4" cy="191.5" r="1.9"/>
<rect x="98.8" y="191.4" width="3.6" height="3.6"/>
<path d="M97.6 195.4L101.8 195.4L99.7 191.6Z"/>
<path d="M98.4 193.3L102.6 193.3L100.5 197.1Z"/>
<circle cx="105.7" cy="188.1" r="1.9"/>
<rect x="103.7" y="188.1" width="3.6" height="3.6"/>
<path d="M102.5 192.1L106.7 192.1L104.6 188.3Z"/>
<path d="M103.0 189.1L107.2 189.1L105.1 192.8Z"/>
<circle cx="110.0" cy="192.0" r="1.9"/>
<rect x="108.1" y="192.2" width="3.6" height="3.6"/>
<path d="M107.2 195.7L111.4 195.7L109.3 191.9Z"/>
<path d="M107.4 193.7L111.6 193.7L109.5 197.5Z"/>
<circle cx="115.0" cy="195.0" r="1.9"/>
<rect x="112.6" y="195.0" width="3.6" height="3.6"/>
<path d="M111.2 201.1L115.4 201.1L113.3 197.3Z"/>
<path d="M112.0 199.2L116.2 199.2L114.1 203.0Z"/>
<circle cx="119.4" cy="198.1" r="1.9"/>
<rect x="116.9" y="197.6" width="3.6" height="3.6"/>
<path d="M115.7 203.2L119.9 203.2L117.8 199.4Z"/>
<path d="M116.4 200.4L120.6 200.4L118.5 204.1Z"/>
<circle cx="123.8" cy="199.4" r="1.9"/>
<rect x="121.1" y="199.0" width="3.6" height="3.6"/>
<path d="M119.9 203.5L124.1 203.5L122.0 199.7Z"/>
<path d="M120.6 200.6L124.8 200.6L122.7 204.4Z"/>
<circle cx="128.1" cy="200.8" r="1.9"/>
<rect x="125.7" y="200.2" width="3.6" height="3.6"/>
<path d="M124.3 204.6L128.5 204.6L126.4 200.8Z"/>
<path d="M125.0 201.9L129.2 201.9L127.1 205.7Z"/>
<circle cx="132.7" cy="200.4" r="1.9"/>
<rect x="130.0" y="199.8" width="3.6" height="3.6"/>
<path d="M128.9 204.4L133.1 204.4L131.0 200.6Z"/>
<path d="M129.1 202.2L133.3 202.2L131.2 206.0Z"/>
<circle cx="136.5" cy="202.9" r="1.9"/>
<rect x="134.5" y="201.5" width="3.6" height="3.6"/>
<path d="M133.1 203.4L137.3 203.4L135.2 199.6Z"/>
<path d="M133.9 199.0L138.1 199.0L136.0 202.7Z"/>
<circle cx="140.6" cy="203.9" r="1.9"/>
<rect x="138.7" y="202.2" width="3.6" height="3.6"/>
<path d="M138.2 203.8L142.4 203.8L140.3 200.0Z"/>
<path d="M138.3 199.2L142.5 199.2L140.4 203.0Z"/>
<circle cx="145.2" cy="204.0" r="1.9"/>
<rect x="143.3" y="203.4" width="3.6" height="3.6"/>
<path d="M142.2 204.6L146.4 204.6L144.3 200.9Z"/>
<path d="M142.4 199.4L146.6 199.4L144.5 203.2Z"/>
<circle cx="149.7" cy="204.3" r="1.9"/>
<rect x="147.7" y="203.3" width="3.6" height="3.6"/>
<path d="M147.0 204.3L151.2 204.3L149.1 200.5Z"/>
<path d="M146.7 200.4L150.9 200.4L148.8 204.2Z"/>
<circle cx="153.9" cy="203.2" r="1.9"/>
<rect x="151.7" y="203.4" width="3.6" height="3.6"/>
<path d="M151.1 204.6L155.3 204.6L153.2 200.9Z"/>
<path d="M151.7 201.9L155.9 201.9L153.8 205.6Z"/>
<circle cx="158.4" cy="203.2" r="1.9"/>
<rect x="155.8" y="204.3" width="3.6" height="3.6"/>
<path d="M155.1 205.8L159.3 205.8L157.2 202.0Z"/>
<path d="M155.8 200.7L160.0 200.7L157.9 204.5Z"/>
<circle cx="163.1" cy="203.3" r="1.9"/>
<rect x="160.3" y="203.6" width="3.6" height="3.6"/>
<path d="M159.5 206.3L163.7 206.3L161.6 202.5Z"/>
<path d="M160.0 200.5L164.2 200.5L162.1 204.3Z"/>
<circle cx="166.9" cy="204.8" r="1.9"/>
<rect x="165.0" y="204.1" width="3.6" height="3.6"/>
<path d="M164.4 206.4L168.6 206.4L166.5 202.6Z"/>
<path d="M164.9 201.9L169.1 201.9L167.0 205.6Z"/>
<circle cx="171.4" cy="204.6" r="1.9"/>
<rect x="169.1" y="202.9" width="3.6" height="3.6"/>
<path d="M168.7 206.3L172.9 206.3L170.8 202.6Z"/>
<path d="M168.7 201.1L172.9 201.1L170.8 204.9Z"/>
<circle cx="176.0" cy="205.3" r="1.9"/>
<rect x="173.8" y="204.4" width="3.6" height="3.6"/>
<path d="M173.3 205.8L177.5 205.8L175.4 202.0Z"/>
<path d="M173.6 202.7L177.8 202.7L175.7 206.4Z"/>
<circle cx="180.1" cy="206.0" r="1.9"/>
<rect x="178.4" y="203.5" width="3.6" height="3.6"/>
<path d="M177.4 206.5L181.6 206.5L179.5 202.7Z"/>
<path d="M178.1 201.7L182.3 201.7L180.2 205.4Z"/>
<circle cx="184.9" cy="206.0" r="1.9"/>
<rect x="182.8" y="205.4" width="3.6" height="3.6"/>
<path d="M181.9 206.7L186.1 206.7L184.0 202.9Z"/>
<path d="M181.9 202.6L186.1 202.6L184.0 206.3Z"/>
<circle cx="189.5" cy="205.6" r="1.9"/>
<rect x="187.2" y="204.0" width="3.6" height="3.6"/>
<path d="M186.6 207.5L190.8 207.5L188.7 203.8Z"/>
<path d="M187.0 202.3L191.2 202.3L189.1 206.1Z"/>
<circle cx="103.4" cy="188.3" r="1.9"/>
<rect x="104.5" y="188.4" width="3.6" height="3.6"/>
<path d="M84.9 189.8L89.1 189.8L87.0 186.0Z"/>
<rect x="197.3" y="204.5" width="3.6" height="3.6"/>
<circle cx="199.1" cy="206.0" r="1.9"/>
<rect x="202.5" y="204.5" width="3.6" height="3.6"/>
<circle cx="204.3" cy="206.3" r="1.9"/>
<rect x="207.6" y="204.4" width="3.6" height="3.6"/>
<circle cx="209.4" cy="205.8" r="1.9"/>
<rect x="212.3" y="204.4" width="3.6" height="3.6"/>
<circle cx="214.1" cy="206.1" r="1.9"/>
<rect x="217.2" y="204.5" width="3.6" height="3.6"/>
<circle cx="219.0" cy="206.1" r="1.9"/>
<rect x="221.6" y="204.3" width="3.6" height="3.6"/>
<circle cx="223.4" cy="206.3" r="1.9"/>
<rect x="226.0" y="204.3" width="3.6" height="3.6"/>
<circle cx="227.8" cy="206.3" r="1.9"/>
<rect x="192.8" y="204.2" width="3.6" height="3.6"/>
<circle cx="194.6" cy="205.4" r="1.9"/>
<path d="M192.5 203.4L196.7 203.4L194.6 207.2Z"/>
<path d="M230.1 199.8L234.3 199.8L232.2 196.0Z"/>
<circle cx="232.2" cy="200.3" r="1.9"/>
<rect x="230.4" y="200.2" width="3.6" height="3.6"/>
<path d="M230.1 202.6L234.3 202.6L232.2 206.4Z"/>
<g stroke-width="0.7">
<path d="M350.5 99.0L354.7 99.0L352.6 102.8Z"/>
<path d="M346.1 126.7L350.3 126.7L348.2 130.5Z"/>
<path d="M350.5 137.9L354.7 137.9L352.6 134.1Z"/>
<path d="M354.9 134.7L359.1 134.7L357.0 138.5Z"/>
<rect x="345.2" y="135.8" width="3.6" height="3.6"/>
<path d="M345.9 138.8L350.1 138.8L348.0 142.6Z"/>
<rect x="350.8" y="143.0" width="3.6" height="3.6"/>
<rect x="346.2" y="144.7" width="3.6" height="3.6"/>
<circle cx="344.1" cy="150.7" r="1.9"/>
<rect x="346.2" y="144.4" width="3.6" height="3.6"/>
<path d="M341.9 156.5L346.1 156.5L344.0 152.7Z"/>
<path d="M345.4 160.7L349.6 160.7L347.5 164.5Z"/>
<circle cx="347.3" cy="164.8" r="1.9"/>
<rect x="344.1" y="163.0" width="3.6" height="3.6"/>
<path d="M341.7 149.7L345.9 149.7L343.8 145.9Z"/>
<path d="M344.0 148.1L348.2 148.1L346.1 151.9Z"/>
<circle cx="347.6" cy="157.7" r="1.9"/>
<rect x="344.3" y="160.6" width="3.6" height="3.6"/>
<path d="M344.3 151.7L348.5 151.7L346.4 148.0Z"/>
<path d="M343.1 160.9L347.3 160.9L345.2 164.6Z"/>
<circle cx="349.0" cy="147.8" r="1.9"/>
<rect x="346.7" y="163.5" width="3.6" height="3.6"/>
<path d="M344.0 157.8L348.2 157.8L346.1 154.0Z"/>
<path d="M342.2 153.8L346.4 153.8L344.3 157.5Z"/>
<circle cx="346.0" cy="156.9" r="1.9"/>
<rect x="341.8" y="163.5" width="3.6" height="3.6"/>
<path d="M344.0 153.8L348.2 153.8L346.1 150.0Z"/>
<path d="M346.0 154.4L350.2 154.4L348.1 158.2Z"/>
<circle cx="345.9" cy="158.9" r="1.9"/>
<rect x="341.9" y="153.6" width="3.6" height="3.6"/>
<path d="M343.3 166.6L347.5 166.6L345.4 162.8Z"/>
<path d="M347.0 147.6L351.2 147.6L349.1 151.4Z"/>
<circle cx="345.8" cy="145.9" r="1.9"/>
<rect x="343.7" y="160.0" width="3.6" height="3.6"/>
<path d="M346.9 155.5L351.1 155.5L349.0 151.8Z"/>
<path d="M342.7 145.8L346.9 145.8L344.8 149.6Z"/>
<circle cx="346.8" cy="164.3" r="1.9"/>
<rect x="342.2" y="159.1" width="3.6" height="3.6"/>
<path d="M341.5 149.0L345.7 149.0L343.6 145.3Z"/>
<path d="M342.3 157.2L346.5 157.2L344.4 161.0Z"/>
<circle cx="344.9" cy="151.2" r="1.9"/>
<rect x="345.0" y="143.6" width="3.6" height="3.6"/>
<path d="M345.5 147.4L349.7 147.4L347.6 143.6Z"/>
<path d="M343.9 147.2L348.1 147.2L346.0 151.0Z"/>
<circle cx="344.2" cy="155.2" r="1.9"/>
<rect x="343.7" y="149.8" width="3.6" height="3.6"/>
<path d="M343.3 156.7L347.5 156.7L345.4 153.0Z"/>
<path d="M342.0 146.1L346.2 146.1L344.1 149.9Z"/>
<path d="M360.3 156.0L364.5 156.0L362.4 159.8Z"/>
<circle cx="357.4" cy="161.6" r="1.9"/>
<rect x="355.6" y="163.5" width="3.6" height="3.6"/>
<path d="M355.3 167.2L359.5 167.2L357.4 163.4Z"/>
<path d="M364.7 168.8L368.9 168.8L366.8 172.6Z"/>
<circle cx="362.0" cy="173.8" r="1.9"/>
<rect x="360.2" y="175.6" width="3.6" height="3.6"/>
<path d="M359.9 179.2L364.1 179.2L362.0 175.4Z"/>
<path d="M369.5 173.3L373.7 173.3L371.6 177.1Z"/>
<rect x="365.1" y="183.2" width="3.6" height="3.6"/>
<circle cx="366.9" cy="185.0" r="1.9"/>
<path d="M364.8 186.5L369.0 186.5L366.9 182.7Z"/>
<rect x="369.5" y="183.3" width="3.6" height="3.6"/>
<rect x="369.5" y="186.2" width="3.6" height="3.6"/>
<path d="M369.2 189.8L373.4 189.8L371.3 186.0Z"/>
<circle cx="371.3" cy="187.2" r="1.9"/>
<path d="M374.4 182.1L378.6 182.1L376.5 185.9Z"/>
<path d="M379.1 184.3L383.3 184.3L381.2 188.1Z"/>
<rect x="375.0" y="189.7" width="3.6" height="3.6"/>
<circle cx="376.8" cy="191.2" r="1.9"/>
<path d="M374.7 193.1L378.9 193.1L376.8 189.3Z"/>
<rect x="379.8" y="188.8" width="3.6" height="3.6"/>
<circle cx="381.6" cy="191.3" r="1.9"/>
<path d="M379.5 193.0L383.7 193.0L381.6 189.2Z"/>
<rect x="384.5" y="189.8" width="3.6" height="3.6"/>
<circle cx="386.3" cy="190.7" r="1.9"/>
<path d="M384.2 192.3L388.4 192.3L386.3 188.5Z"/>
<rect x="389.4" y="191.3" width="3.6" height="3.6"/>
<circle cx="391.2" cy="192.1" r="1.9"/>
<path d="M389.1 194.8L393.3 194.8L391.2 191.0Z"/>
<path d="M384.2 188.4L388.4 188.4L386.3 192.2Z"/>
<path d="M389.1 190.4L393.3 190.4L391.2 194.2Z"/>
<rect x="394.1" y="188.5" width="3.6" height="3.6"/>
<circle cx="395.9" cy="193.5" r="1.9"/>
<rect x="394.1" y="191.4" width="3.6" height="3.6"/>
<path d="M393.8 195.4L398.0 195.4L395.9 191.6Z"/>
<path d="M393.8 189.9L398.0 189.9L395.9 193.7Z"/>
<rect x="399.0" y="184.4" width="3.6" height="3.6"/>
<circle cx="400.8" cy="186.6" r="1.9"/>
<rect x="399.0" y="186.7" width="3.6" height="3.6"/>
<path d="M398.7 189.8L402.9 189.8L400.8 186.0Z"/>
<path d="M398.7 185.6L402.9 185.6L400.8 189.4Z"/>
<rect x="403.7" y="184.4" width="3.6" height="3.6"/>
<circle cx="405.5" cy="186.6" r="1.9"/>
<rect x="403.7" y="186.7" width="3.6" height="3.6"/>
<path d="M403.4 189.8L407.6 189.8L405.5 186.0Z"/>
<path d="M403.4 185.6L407.6 185.6L405.5 189.4Z"/>
<circle cx="410.3" cy="191.5" r="1.75"/>
<rect x="408.7" y="191.9" width="3.2" height="3.2"/>
<path d="M408.4 194.1L412.2 194.1L410.3 197.4Z"/>
<path d="M408.4 195.9L412.2 195.9L410.3 192.6Z"/>
<rect x="413.4" y="197.1" width="3.2" height="3.2"/>
<circle cx="415.0" cy="198.0" r="1.75"/>
<path d="M413.1 199.8L416.9 199.8L415.0 196.5Z"/>
<path d="M413.1 197.3L416.9 197.3L415.0 200.7Z"/>
<rect x="418.3" y="198.0" width="3.2" height="3.2"/>
<circle cx="419.9" cy="199.2" r="1.75"/>
<path d="M418.0 201.5L421.8 201.5L419.9 198.2Z"/>
<path d="M418.0 198.2L421.8 198.2L419.9 201.6Z"/>
<rect x="423.1" y="199.3" width="3.2" height="3.2"/>
<circle cx="424.7" cy="200.2" r="1.75"/>
<path d="M422.8 202.2L426.6 202.2L424.7 198.8Z"/>
<path d="M422.8 199.5L426.6 199.5L424.7 202.8Z"/>
<rect x="427.8" y="199.7" width="3.2" height="3.2"/>
<circle cx="429.4" cy="201.1" r="1.75"/>
<path d="M427.5 203.2L431.2 203.2L429.4 199.9Z"/>
<path d="M427.5 200.5L431.2 200.5L429.4 203.9Z"/>
<rect x="432.5" y="200.5" width="3.2" height="3.2"/>
<circle cx="434.1" cy="201.3" r="1.75"/>
<path d="M432.2 203.3L436.0 203.3L434.1 200.0Z"/>
<path d="M432.2 200.7L436.0 200.7L434.1 204.0Z"/>
<rect x="437.4" y="200.3" width="3.2" height="3.2"/>
<circle cx="439.0" cy="201.9" r="1.75"/>
<path d="M437.1 203.1L440.9 203.1L439.0 199.7Z"/>
<path d="M437.1 200.0L440.9 200.0L439.0 203.3Z"/>
<rect x="442.2" y="200.9" width="3.2" height="3.2"/>
<circle cx="443.8" cy="202.0" r="1.75"/>
<path d="M441.9 204.2L445.7 204.2L443.8 200.9Z"/>
<path d="M441.9 201.2L445.7 201.2L443.8 204.6Z"/>
<rect x="446.9" y="201.1" width="3.2" height="3.2"/>
<circle cx="448.5" cy="202.1" r="1.75"/>
<path d="M446.6 203.9L450.4 203.9L448.5 200.5Z"/>
<path d="M446.6 200.9L450.4 200.9L448.5 204.2Z"/>
<rect x="452.1" y="201.5" width="3.2" height="3.2"/>
<circle cx="453.7" cy="203.3" r="1.75"/>
<path d="M451.8 204.8L455.6 204.8L453.7 201.5Z"/>
<path d="M451.8 201.1L455.6 201.1L453.7 204.4Z"/>
<rect x="456.9" y="201.1" width="3.2" height="3.2"/>
<circle cx="458.5" cy="203.3" r="1.75"/>
<path d="M456.6 204.4L460.4 204.4L458.5 201.1Z"/>
<path d="M456.6 201.8L460.4 201.8L458.5 205.1Z"/>
<rect x="461.6" y="202.1" width="3.2" height="3.2"/>
<circle cx="463.2" cy="203.6" r="1.75"/>
<path d="M461.3 205.3L465.1 205.3L463.2 201.9Z"/>
<path d="M461.3 202.2L465.1 202.2L463.2 205.6Z"/>
<rect x="466.4" y="202.2" width="3.2" height="3.2"/>
<circle cx="468.0" cy="203.1" r="1.75"/>
<path d="M466.1 205.4L469.9 205.4L468.0 202.1Z"/>
<path d="M466.1 202.7L469.9 202.7L468.0 206.0Z"/>
<rect x="471.2" y="201.5" width="3.2" height="3.2"/>
<circle cx="472.8" cy="203.1" r="1.75"/>
<path d="M470.9 205.0L474.7 205.0L472.8 201.6Z"/>
<path d="M470.9 201.7L474.7 201.7L472.8 205.0Z"/>
<rect x="476.0" y="202.0" width="3.2" height="3.2"/>
<circle cx="477.6" cy="203.3" r="1.75"/>
<path d="M475.8 205.2L479.5 205.2L477.6 201.9Z"/>
<path d="M475.8 201.8L479.5 201.8L477.6 205.2Z"/>
<rect x="481.4" y="203.6" width="3.2" height="3.2"/>
<circle cx="483.0" cy="205.2" r="1.75"/>
<path d="M481.1 206.7L484.9 206.7L483.0 203.4Z"/>
<path d="M481.1 204.0L484.9 204.0L483.0 207.3Z"/>
<rect x="486.0" y="202.9" width="3.2" height="3.2"/>
<circle cx="487.6" cy="204.2" r="1.75"/>
<path d="M485.8 206.0L489.5 206.0L487.6 202.7Z"/>
<path d="M485.8 203.0L489.5 203.0L487.6 206.3Z"/>
<rect x="490.8" y="203.4" width="3.2" height="3.2"/>
<circle cx="492.4" cy="204.9" r="1.75"/>
<path d="M490.5 206.0L494.2 206.0L492.4 202.7Z"/>
<path d="M490.5 203.7L494.2 203.7L492.4 207.1Z"/>
<rect x="495.6" y="203.6" width="3.2" height="3.2"/>
<circle cx="497.2" cy="205.2" r="1.75"/>
<path d="M495.3 206.8L499.1 206.8L497.2 203.5Z"/>
<path d="M495.3 203.5L499.1 203.5L497.2 206.8Z"/>
<rect x="500.4" y="203.6" width="3.2" height="3.2"/>
<circle cx="502.0" cy="205.3" r="1.75"/>
<path d="M500.1 206.7L503.9 206.7L502.0 203.4Z"/>
<path d="M500.1 203.9L503.9 203.9L502.0 207.2Z"/>
<rect x="505.2" y="203.6" width="3.2" height="3.2"/>
<circle cx="506.8" cy="204.8" r="1.75"/>
<path d="M504.9 206.7L508.7 206.7L506.8 203.4Z"/>
<path d="M504.9 203.2L508.7 203.2L506.8 206.5Z"/>
<rect x="510.4" y="203.4" width="3.2" height="3.2"/>
<circle cx="512.0" cy="204.9" r="1.75"/>
<path d="M510.1 206.1L513.9 206.1L512.0 202.8Z"/>
<path d="M510.1 203.5L513.9 203.5L512.0 206.8Z"/>
<rect x="515.2" y="202.9" width="3.2" height="3.2"/>
<circle cx="516.8" cy="204.4" r="1.75"/>
<path d="M514.9 205.7L518.6 205.7L516.8 202.4Z"/>
<path d="M514.9 203.5L518.6 203.5L516.8 206.8Z"/>
<rect x="519.9" y="203.5" width="3.2" height="3.2"/>
<circle cx="521.5" cy="204.7" r="1.75"/>
<path d="M519.6 206.7L523.4 206.7L521.5 203.4Z"/>
<path d="M519.6 203.7L523.4 203.7L521.5 207.0Z"/>
<rect x="524.7" y="202.2" width="3.2" height="3.2"/>
<circle cx="526.3" cy="203.5" r="1.75"/>
<path d="M524.4 205.7L528.1 205.7L526.3 202.4Z"/>
<path d="M524.4 202.5L528.1 202.5L526.3 205.8Z"/>
<rect x="529.4" y="200.2" width="3.2" height="3.2"/>
<rect x="529.4" y="202.0" width="3.2" height="3.2"/>
<circle cx="531.0" cy="203.4" r="1.75"/>
<path d="M529.1 201.8L532.9 201.8L531.0 205.1Z"/>
<rect x="534.6" y="195.4" width="3.2" height="3.2"/>
<rect x="534.6" y="198.4" width="3.2" height="3.2"/>
<path d="M534.4 204.4L538.1 204.4L536.2 201.1Z"/>
<path d="M534.4 201.6L538.1 201.6L536.2 204.9Z"/>
<path d="M458.5 86.3L462.7 86.3L460.6 82.5Z"/>
<path d="M462.2 87.0L466.4 87.0L464.3 83.2Z"/>
<path d="M462.5 87.5L466.7 87.5L464.6 83.7Z"/>
<path d="M466.6 91.5L470.8 91.5L468.7 87.7Z"/>
<path d="M470.9 95.1L475.1 95.1L473.0 91.3Z"/>
<path d="M473.9 103.2L478.1 103.2L476.0 99.4Z"/>
<path d="M477.4 105.8L481.6 105.8L479.5 102.0Z"/>
<path d="M480.9 103.6L485.1 103.6L483.0 99.8Z"/>
<path d="M484.9 101.9L489.1 101.9L487.0 98.1Z"/>
<path d="M488.4 96.6L492.6 96.6L490.5 92.8Z"/>
<path d="M492.4 92.6L496.6 92.6L494.5 88.8Z"/>
<path d="M495.9 89.6L500.1 89.6L498.0 85.8Z"/>
<path d="M499.9 86.6L504.1 86.6L502.0 82.8Z"/>
<path d="M503.9 84.1L508.1 84.1L506.0 80.3Z"/>
<path d="M507.9 80.1L512.1 80.1L510.0 76.3Z"/>
<path d="M457.8 92.7L462.0 92.7L459.9 96.5Z"/>
<path d="M462.2 90.4L466.4 90.4L464.3 94.2Z"/>
<path d="M466.1 91.9L470.3 91.9L468.2 95.7Z"/>
<path d="M469.9 96.9L474.1 96.9L472.0 100.7Z"/>
<path d="M473.9 100.9L478.1 100.9L476.0 104.7Z"/>
<path d="M477.9 103.4L482.1 103.4L480.0 107.2Z"/>
<path d="M481.9 99.9L486.1 99.9L484.0 103.7Z"/>
<path d="M485.9 94.6L490.1 94.6L488.0 98.4Z"/>
<path d="M489.9 90.9L494.1 90.9L492.0 94.7Z"/>
<path d="M493.9 87.4L498.1 87.4L496.0 91.2Z"/>
<path d="M497.9 84.0L502.1 84.0L500.0 87.8Z"/>
<path d="M501.9 81.6L506.1 81.6L504.0 85.4Z"/>
<path d="M505.9 78.4L510.1 78.4L508.0 82.2Z"/>
<path d="M508.9 75.2L513.1 75.2L511.0 79.0Z"/>
<circle cx="455.9" cy="133.7" r="1.9"/>
<circle cx="459.9" cy="103.8" r="1.9"/>
<circle cx="464.3" cy="101.6" r="1.9"/>
<circle cx="468.5" cy="101.5" r="1.9"/>
<circle cx="472.5" cy="102.5" r="1.9"/>
<circle cx="476.5" cy="104.3" r="1.9"/>
<circle cx="480.5" cy="105.2" r="1.9"/>
<circle cx="484.9" cy="107.5" r="1.9"/>
<circle cx="489.3" cy="100.9" r="1.9"/>
<circle cx="493.2" cy="102.0" r="1.9"/>
<circle cx="488.5" cy="102.5" r="1.9"/>
<circle cx="497.0" cy="90.5" r="1.9"/>
<circle cx="501.0" cy="87.5" r="1.9"/>
<circle cx="505.0" cy="85.0" r="1.9"/>
<circle cx="509.0" cy="83.2" r="1.9"/>
<rect x="454.1" y="137.8" width="3.6" height="3.6"/>
<rect x="454.3" y="137.4" width="3.6" height="3.6"/>
<rect x="458.5" y="112.8" width="3.6" height="3.6"/>
<rect x="462.7" y="98.4" width="3.6" height="3.6"/>
<rect x="466.9" y="97.6" width="3.6" height="3.6"/>
<rect x="470.6" y="103.5" width="3.6" height="3.6"/>
<rect x="474.7" y="104.2" width="3.6" height="3.6"/>
<rect x="478.7" y="102.7" width="3.6" height="3.6"/>
<rect x="483.1" y="96.2" width="3.6" height="3.6"/>
<rect x="487.0" y="93.4" width="3.6" height="3.6"/>
<rect x="491.0" y="90.2" width="3.6" height="3.6"/>
<rect x="494.8" y="87.2" width="3.6" height="3.6"/>
<rect x="499.0" y="83.7" width="3.6" height="3.6"/>
<rect x="502.9" y="83.6" width="3.6" height="3.6"/>
<rect x="507.2" y="82.9" width="3.6" height="3.6"/>
<rect x="511.5" y="82.2" width="3.6" height="3.6"/>
</g>
<circle cx="65.8" cy="30.2" r="1.45"/>
<circle cx="432.2" cy="24.0" r="1.65"/>
<rect x="64.4" y="36.1" width="2.8" height="2.8"/>
<rect x="430.6" y="30.1" width="3.1" height="3.1"/>
<path d="M64.2 46.0L67.4 46.0L65.8 43.1Z"/>
<path d="M430.4 40.8L434.0 40.8L432.2 37.5Z"/>
<path d="M64.2 50.9L67.4 50.9L65.8 53.8Z"/>
<path d="M430.4 45.8L434.0 45.8L432.2 49.0Z"/>
</g>
<clipPath id="ca"><rect x="46.8" y="18" width="3.6" height="194"/></clipPath><clipPath id="cb"><rect x="340.8" y="7" width="3.8" height="203"/></clipPath>
<g fill="none" stroke="#1a1a1a" stroke-width="0.58">
<g clip-path="url(#ca)">
<circle cx="48.7" cy="29.5" r="1.9"/>
<rect x="46.9" y="45.7" width="3.6" height="3.6"/>
<path d="M46.6 68.9L50.8 68.9L48.7 65.1Z"/>
<path d="M46.6 66.2L50.8 66.2L48.7 70.0Z"/>
<circle cx="48.7" cy="102.7" r="1.9"/>
<path d="M46.6 108.2L50.8 108.2L48.7 104.4Z"/>
<path d="M46.6 119.4L50.8 119.4L48.7 123.2Z"/>
<circle cx="48.7" cy="127.0" r="1.9"/>
<rect x="46.9" y="129.2" width="3.6" height="3.6"/>
<path d="M46.6 136.1L50.8 136.1L48.7 132.3Z"/>
<circle cx="48.7" cy="139.0" r="1.9"/>
<path d="M46.6 144.4L50.8 144.4L48.7 148.2Z"/>
<rect x="46.9" y="148.2" width="3.6" height="3.6"/>
</g><g clip-path="url(#cb)">
<path d="M340.5 18.2L344.7 18.2L342.6 14.4Z"/>
<circle cx="342.6" cy="37.0" r="1.9"/>
<circle cx="342.6" cy="78.0" r="1.9"/>
<rect x="340.8" y="85.0" width="3.6" height="3.6"/>
<circle cx="342.6" cy="113.5" r="1.9"/>
<rect x="340.8" y="115.2" width="3.6" height="3.6"/>
<path d="M340.5 122.1L344.7 122.1L342.6 118.3Z"/>
<circle cx="342.6" cy="124.0" r="1.9"/>
<path d="M340.5 132.6L344.7 132.6L342.6 128.8Z"/>
<rect x="340.8" y="134.2" width="3.6" height="3.6"/>
<circle cx="342.6" cy="140.0" r="1.9"/>
</g></g>
<g font-family="'Liberation Sans', Arial, sans-serif" fill="#111" stroke="#111" stroke-width="0.3">
<text x="47.7" y="223.5" font-size="6.5" text-anchor="middle" >0</text>
<text x="69.7" y="223.5" font-size="6.5" text-anchor="middle" >50</text>
<text x="91.7" y="223.5" font-size="6.5" text-anchor="middle" >100</text>
<text x="113.7" y="223.5" font-size="6.5" text-anchor="middle" >150</text>
<text x="135.7" y="223.5" font-size="6.5" text-anchor="middle" >200</text>
<text x="157.7" y="223.5" font-size="6.5" text-anchor="middle" >250</text>
<text x="179.7" y="223.5" font-size="6.5" text-anchor="middle" >300</text>
<text x="201.7" y="223.5" font-size="6.5" text-anchor="middle" >350</text>
<text x="223.7" y="223.5" font-size="6.5" text-anchor="middle" >400</text>
<text x="43.5" y="214.8" font-size="6.5" text-anchor="end" >0</text>
<text x="43" y="175.8" font-size="6.5" text-anchor="end" >0.02</text>
<text x="43" y="137.3" font-size="6.5" text-anchor="end" >0.04</text>
<text x="43" y="98.8" font-size="6.5" text-anchor="end" >0.06</text>
<text x="43" y="59.9" font-size="6.5" text-anchor="end" >0.08</text>
<text x="43" y="21.400000000000002" font-size="6.5" text-anchor="end" >0.1</text>
<text x="145" y="243.8" font-size="6.5" text-anchor="middle" >Time (days)</text>
<text x="8.8" y="112.3" font-size="6.5" text-anchor="middle" transform="rotate(-90 8.8 112.3)">Corrosion rate (mm/y)</text>
<text x="77.2" y="32.5" font-size="6.5" text-anchor="start" >One 10mm defect (4.6% area)</text>
<text x="77.2" y="39.8" font-size="6.5" text-anchor="start" >One 14mm defect (8.9% area)</text>
<text x="77.2" y="47.1" font-size="6.5" text-anchor="start" >One 18mm defect (14.8% area)</text>
<text x="77.2" y="54.4" font-size="6.5" text-anchor="start" >One 20mm defect (18.3% area)</text>
<text x="52.1" y="67.8" font-size="6.1" text-anchor="start" >heater failure</text>
<text x="98.3" y="183.8" font-size="6.5" text-anchor="middle" >0</text>
<text x="137.3" y="183.8" font-size="6.5" text-anchor="middle" >1</text>
<text x="176.3" y="183.8" font-size="6.5" text-anchor="middle" >2</text>
<text x="215.3" y="183.8" font-size="6.5" text-anchor="middle" >3</text>
<text x="94.3" y="175.4" font-size="6.5" text-anchor="end" >0</text>
<text x="94.3" y="143.20000000000002" font-size="6.5" text-anchor="end" >0.05</text>
<text x="94.3" y="111.0" font-size="6.5" text-anchor="end" >0.1</text>
<text x="94.3" y="78.80000000000001" font-size="6.5" text-anchor="end" >0.15</text>
<text x="164" y="192.3" font-size="6.5" text-anchor="middle" >Time (days)</text>
<text x="76.8" y="119.6" font-size="6.5" text-anchor="middle" transform="rotate(-90 76.8 119.6)">Corrosion rate (mm/y)</text>
<text x="342.3" y="222.4" font-size="6.8" text-anchor="middle" >0</text>
<text x="365.43" y="222.4" font-size="6.8" text-anchor="middle" >50</text>
<text x="388.56" y="222.4" font-size="6.8" text-anchor="middle" >100</text>
<text x="411.69" y="222.4" font-size="6.8" text-anchor="middle" >150</text>
<text x="434.82" y="222.4" font-size="6.8" text-anchor="middle" >200</text>
<text x="457.95000000000005" y="222.4" font-size="6.8" text-anchor="middle" >250</text>
<text x="481.08000000000004" y="222.4" font-size="6.8" text-anchor="middle" >300</text>
<text x="504.21000000000004" y="222.4" font-size="6.8" text-anchor="middle" >350</text>
<text x="527.34" y="222.4" font-size="6.8" text-anchor="middle" >400</text>
<text x="337" y="213.1" font-size="6.8" text-anchor="end" >0</text>
<text x="337" y="171.7" font-size="6.8" text-anchor="end" >0.02</text>
<text x="337" y="131.2" font-size="6.8" text-anchor="end" >0.04</text>
<text x="337" y="90.69999999999999" font-size="6.8" text-anchor="end" >0.06</text>
<text x="337" y="50.19999999999999" font-size="6.8" text-anchor="end" >0.08</text>
<text x="337" y="10.399999999999988" font-size="6.8" text-anchor="end" >0.1</text>
<text x="444.5" y="243.8" font-size="6.8" text-anchor="middle" >Time (days)</text>
<text x="302" y="108.5" font-size="6.8" text-anchor="middle" transform="rotate(-90 302 108.5)">Corrosion rate (mm/y)</text>
<text x="444" y="26.4" font-size="6.8" text-anchor="start" >One 14mm defect (8.9% area)</text>
<text x="444" y="34.1" font-size="6.8" text-anchor="start" >Two 10mm defect (9.1% area)</text>
<text x="444" y="41.8" font-size="6.8" text-anchor="start" >Six 6mm defect (9.9% area)</text>
<text x="444" y="49.5" font-size="6.8" text-anchor="start" >Eight 5mm defect (9.1% area)</text>
<text x="352" y="79.8" font-size="6.0" text-anchor="start" >heater failure</text>
<text x="454.2" y="162.4" font-size="6.8" text-anchor="middle" >0</text>
<text x="494.8" y="162.4" font-size="6.8" text-anchor="middle" >1</text>
<text x="449.5" y="152.5" font-size="6.8" text-anchor="end" >0</text>
<text x="449.5" y="102.0" font-size="6.8" text-anchor="end" >0.05</text>
<text x="486" y="175.8" font-size="6.8" text-anchor="middle" >Time (days)</text>
<text x="427.3" y="115.8" font-size="6.8" text-anchor="middle" transform="rotate(-90 427.3 115.8)">Corrosion rate (mm/y)</text>
</g>
<g font-family="'Liberation Serif', 'Times New Roman', serif" fill="#111" font-weight="bold" font-size="11.8">
<text x="122.8" y="267" text-anchor="middle">(a)</text>
<text x="420.6" y="267.5" text-anchor="middle">(b)</text>
</g>
</g></svg></body></html>
